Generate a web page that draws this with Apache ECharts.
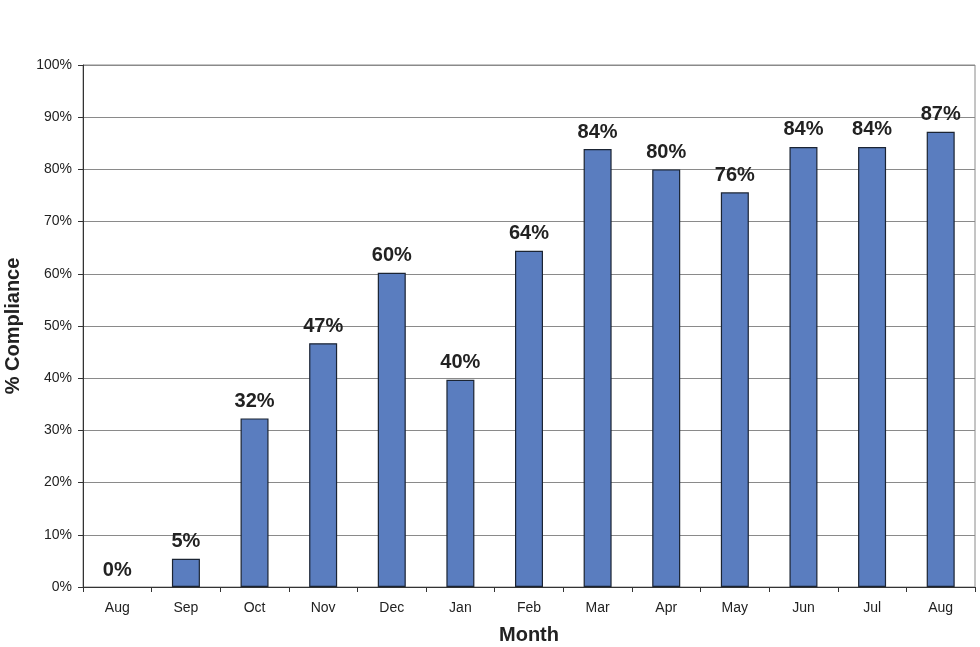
<!DOCTYPE html>
<html>
<head>
<meta charset="utf-8">
<script src="https://cdn.jsdelivr.net/npm/echarts@6/dist/echarts.min.js"></script>
<style>
  html, body { margin: 0; padding: 0; background: #fff; }
  #chart { width: 980px; height: 647px; }
</style>
</head>
<body>
<div id="chart"></div>
<script>
const months = ['Aug', 'Sep', 'Oct', 'Nov', 'Dec', 'Jan', 'Feb', 'Mar', 'Apr', 'May', 'Jun', 'Jul', 'Aug'];
const compliance = [0, 5.4, 32.3, 46.7, 60.2, 39.7, 64.4, 83.9, 80.0, 75.6, 84.3, 84.3, 87.2];
const yTicks = [0, 10, 20, 30, 40, 50, 60, 70, 80, 90, 100];

const font = 'Arial, "Liberation Sans", sans-serif';

const chart = echarts.init(document.getElementById('chart'));
chart.setOption({
  animation: false,
  grid: { left: 83, right: 5, top: 65, bottom: 60, outerBoundsMode: 'none', containLabel: false,
    show: true, borderColor: '#8a8a8a', borderWidth: 1 },
  xAxis: {
    type: 'category',
    data: months.map((m, i) => m + '\u200b'.repeat(i)),
    name: 'Month',
    nameLocation: 'middle',
    nameGap: 38,
    nameTextStyle: { fontFamily: font, fontSize: 20, fontWeight: 'bold', color: '#222' },
    axisLine: { lineStyle: { color: '#333', width: 1 } },
    axisTick: { show: true, length: 5, lineStyle: { color: '#333' } },
    axisLabel: { fontFamily: font, fontSize: 14, color: '#222', margin: 14,
      formatter: v => v.replace(/\u200b/g, '') }
  },
  yAxis: {
    type: 'value',
    min: yTicks[0],
    max: yTicks[yTicks.length - 1],
    interval: 10,
    name: '% Compliance',
    nameLocation: 'middle',
    nameGap: 60,
    nameTextStyle: { fontFamily: font, fontSize: 20, fontWeight: 'bold', color: '#222' },
    axisLine: { show: true, lineStyle: { color: '#333', width: 1 } },
    axisTick: { show: true, length: 5, lineStyle: { color: '#333' } },
    axisLabel: { fontFamily: font, fontSize: 14, color: '#222', margin: 11, formatter: '{value}%' },
    splitLine: { lineStyle: { color: '#8a8a8a', width: 1 } }
  },
  series: [{
    type: 'bar',
    data: compliance.map(v => v === 0 ? { value: v, itemStyle: { borderWidth: 0 } } : v),
    barWidth: 28,
    itemStyle: { color: '#5a7dbf', borderColor: '#1b2433', borderWidth: 1.2 },
    label: {
      show: true,
      position: 'top',
      distance: 7,
      fontFamily: font,
      fontSize: 20,
      fontWeight: 'bold',
      color: '#222',
      formatter: p => Math.round(p.value) + '%'
    }
  }]
});
</script>
</body>
</html>
